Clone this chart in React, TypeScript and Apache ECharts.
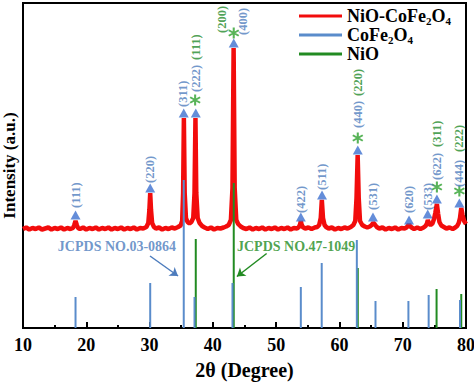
import React, { useEffect, useRef } from 'react';
import * as echarts from 'echarts';

// ---- Measured XRD pattern of NiO-CoFe2O4 (2θ, intensity a.u.) ----
const XRD_TWO_THETA = [
  10.0, 10.5, 11.0, 11.5, 12.0, 12.5, 13.0, 13.5, 14.0, 14.5, 15.0, 15.5, 16.0, 16.5, 17.0, 17.5,
  17.9, 18.1, 18.3, 18.5, 18.7,
  19.0, 19.5, 20.0, 20.5, 21.0, 21.5, 22.0, 22.5, 23.0, 23.5, 24.0, 24.5, 25.0, 25.5, 26.0, 26.5, 27.0, 27.5, 28.0, 28.5, 29.0,
  29.5, 29.8, 29.97, 30.1, 30.23, 30.4, 30.7,
  31.0, 31.5, 32.0, 32.5, 33.0, 33.5, 34.0, 34.5,
  34.9, 35.15, 35.3, 35.42, 35.55, 35.75, 36.0, 36.3, 36.6, 36.9, 37.1, 37.25, 37.38, 37.6, 37.9, 38.3,
  38.7, 39.2, 39.7, 40.2, 40.7, 41.2, 41.7, 42.1,
  42.5, 42.85, 43.1, 43.28, 43.45, 43.7, 44.0, 44.4,
  44.8, 45.3, 45.8, 46.3, 46.8, 47.3, 47.8, 48.3, 48.8, 49.3, 49.8, 50.3, 50.8, 51.3, 51.8, 52.3, 52.8, 53.3,
  53.6, 53.78, 53.9, 54.02, 54.2,
  54.6, 55.1, 55.6, 56.1, 56.5,
  56.8, 57.05, 57.22, 57.4, 57.65, 57.9,
  58.3, 58.8, 59.3, 59.8, 60.3, 60.8, 61.3, 61.8,
  62.2, 62.5, 62.7, 62.88, 63.05, 63.25, 63.6, 64.0,
  64.4, 64.8, 65.1, 65.35, 65.6, 65.9,
  66.3, 66.8, 67.3, 67.8, 68.3, 68.8, 69.3, 69.8, 70.3,
  70.6, 70.8, 70.98, 71.15, 71.4,
  71.8, 72.3, 72.8, 73.3, 73.6,
  73.8, 73.97, 74.15, 74.4, 74.7, 74.95, 75.15, 75.4, 75.6, 75.8, 76.1, 76.5,
  76.9, 77.4, 77.9, 78.3, 78.6,
  78.85, 79.05, 79.25, 79.45, 79.7, 80.0,
];
const XRD_INTENSITY = [
  99, 100.5, 98.5, 100, 99, 100.5, 98.5, 99.5, 100.5, 98.5, 100, 99, 100.5, 98.5, 100, 99,
  100, 103, 107, 103, 100,
  99, 100.5, 98.5, 100, 99, 100.5, 98.5, 100, 99, 100.5, 98.5, 100, 99, 100.5, 98.5, 100, 99, 100.5, 98.5, 100, 99.5,
  101, 105, 118, 135, 118, 105, 101,
  99.5, 100.5, 98.5, 100, 99, 100.5, 99.5, 101,
  102.5, 107, 135, 210, 135, 110, 106, 104.5, 106, 110, 135, 210, 135, 110, 105, 102,
  100.5, 99, 100.5, 98.5, 100, 99.5, 100.5, 101.5,
  103, 108, 140, 280, 140, 108, 104, 101.5,
  100, 99, 100.5, 98.5, 100, 99, 100.5, 98.5, 100, 99, 100.5, 98.5, 100, 99, 100.5, 98.5, 100, 99.5,
  101, 103.5, 107, 103.5, 101,
  99.5, 100.5, 99, 100.5, 101,
  103, 110, 128, 110, 103, 101,
  99.5, 100.5, 98.5, 100, 99, 100.5, 99.5, 101,
  103, 107, 130, 173, 130, 107, 103, 101.5,
  100.5, 101.5, 103, 105, 103.5, 101,
  99.5, 100.5, 98.5, 100, 99, 100.5, 98.5, 100, 99.5,
  100.5, 102, 104, 102, 100.5,
  99, 100.5, 99, 100.5, 102,
  104, 108, 104.5, 103, 104.5, 109, 115, 124, 114, 106, 102.5, 101,
  99.5, 100.5, 99, 100.5, 102,
  105, 110, 120, 113, 107, 104,
];

// ---- Peak markers (blue triangles) ----
const TRIANGLE_X = [18.3, 30.1, 35.4, 37.3, 43.3, 53.9, 57.25, 62.9, 65.3, 71.0, 73.95, 75.4, 78.95];
const TRIANGLE_Y = [113, 140, 215, 215, 285, 111, 133, 178, 111, 108, 114, 129, 125];

// ---- NiO peak markers (green asterisks) ----
const ASTERISK_X = [37.2, 43.3, 62.9, 75.4, 78.95];
const ASTERISK_Y = [228, 295, 190, 141, 137];

// ---- Reference patterns (stick heights) ----
const COFE2O4_X = [18.3, 30.1, 35.4, 37.1, 43.1, 53.9, 57.2, 62.75, 65.7, 70.9, 74.1, 79.05];
const COFE2O4_Y = [31, 45, 148, 31, 45, 41, 65, 88, 27, 27, 33, 28];
const NIO_X = [37.3, 43.3, 62.9, 75.35, 79.25];
const NIO_Y = [89, 145, 60, 39, 34];

// ---- Miller index labels ----
const BLUE_HKL = ['(111)', '(220)', '(311)', '(222)', '(400)', '(422)', '(511)', '(440)', '(531)', '(620)', '(533)', '(622)', '(444)'];
const BLUE_HKL_X = [18.3, 30.1, 35.35, 37.4, 44.75, 53.9, 57.25, 62.9, 65.3, 71.0, 73.95, 75.45, 78.95];
const BLUE_HKL_Y = [120, 145, 221, 236, 293, 115, 138, 200, 118, 115, 118, 148, 141];
const GREEN_HKL = ['(111)', '(200)', '(220)', '(311)', '(222)'];
const GREEN_HKL_X = [37.4, 41.45, 62.9, 75.45, 78.95];
const GREEN_HKL_Y = [268, 295, 232, 181, 176];

// ---- Reference card annotations ----
const CARD_TEXT = ['JCPDS NO.03-0864', 'JCPDS NO.47-1049'];
const CARD_TEXT_X = [24.85, 53.15];
const CARD_TEXT_Y = [82, 82];
const CARD_ARROW_FROM = [[30.07, 72], [48.5, 74.5]];
const CARD_ARROW_TO = [[34.5, 52], [43.8, 51.5]];

const X_TICKS = [10, 20, 30, 40, 50, 60, 70, 80];

const SERIF = "'Liberation Serif', 'Times New Roman', serif";
const RED = '#f20c0c';
const BLUE = '#5a8ccb';
const TRI_BLUE = '#3d70cf';
const TXT_BLUE = '#4d7cbd';
const GREEN = '#228b22';
const TXT_GREEN = '#1f8a2a';
const AST_GREEN = '#2ea02e';

const ASTERISK_PATH =
  'path://M-0.9,-5L0.9,-5L0.9,5L-0.9,5Z' +
  'M3.88,-3.28L4.78,-1.72L-3.88,3.28L-4.78,1.72Z' +
  'M-4.78,-1.72L-3.88,-3.28L4.78,1.72L3.88,3.28Z';

function hklSeries(texts: string[], xs: number[], ys: number[], color: string) {
  return {
    type: 'scatter',
    z: 6,
    silent: true,
    symbolSize: 1,
    itemStyle: { color: 'transparent' },
    label: {
      show: true,
      position: 'inside',
      rotate: 90,
      align: 'left',
      verticalAlign: 'middle',
      fontFamily: SERIF,
      fontWeight: 'bold',
      fontSize: 12.5,
      color,
      formatter: (p: any) => texts[p.dataIndex],
    },
    data: xs.map((x, i) => [x, ys[i]]),
  };
}

export default function App() {
  const ref = useRef<HTMLDivElement>(null);
  useEffect(() => {
    const chart = echarts.init(ref.current!, null, { renderer: 'svg' });
    const option: any = {
      animation: false,
      backgroundColor: '#ffffff',
      grid: {
        left: 23, right: 8, top: 3, bottom: 55,
        outerBoundsMode: 'none',
        containLabel: false,
        show: true, borderColor: '#000', borderWidth: 2,
      },
      legend: {
        orient: 'vertical',
        left: 299,
        top: 7,
        padding: 0,
        itemGap: 0,
        itemWidth: 43,
        itemHeight: 3,
        icon: 'rect',
        selectedMode: false,
        data: ['NiO-CoFe2O4', 'CoFe2O4', 'NiO'],
        formatter: (name: string) =>
          name === 'NiO-CoFe2O4'
            ? '{a|NiO-CoFe}{s|2}{a|O}{s|4}'
            : name === 'CoFe2O4'
            ? '{a|CoFe}{s|2}{a|O}{s|4}'
            : '{a|NiO}',
        textStyle: {
          rich: {
            a: { fontFamily: SERIF, fontWeight: 'bold', fontSize: 18, lineHeight: 20, color: '#000' },
            s: { fontFamily: SERIF, fontWeight: 'bold', fontSize: 11, lineHeight: 11, verticalAlign: 'bottom', color: '#000' },
          },
        },
      },
      xAxis: {
        type: 'value',
        min: X_TICKS[0],
        max: X_TICKS[X_TICKS.length - 1],
        interval: 10,
        name: '2θ (Degree)',
        nameLocation: 'middle',
        nameGap: 32,
        nameTextStyle: { fontFamily: SERIF, fontWeight: 'bold', fontSize: 20, color: '#000' },
        axisLine: { lineStyle: { color: '#000', width: 2 } },
        axisTick: { inside: true, length: 6, lineStyle: { color: '#000', width: 2 } },
        minorTick: { show: true, splitNumber: 2, length: 3, lineStyle: { color: '#000', width: 2 } },
        axisLabel: {
          fontFamily: SERIF,
          fontWeight: 'bold',
          fontSize: 18,
          color: '#000',
          margin: 8,
          showMinLabel: true,
          showMaxLabel: true,
          alignMinLabel: 'center',
          alignMaxLabel: 'center',
          hideOverlap: false,
        },
        splitLine: { show: false },
      },
      yAxis: {
        type: 'value',
        min: 0,
        max: 325,
        name: 'Intensity (a.u.)',
        nameLocation: 'middle',
        nameGap: 5.5,
        nameTextStyle: { fontFamily: SERIF, fontWeight: 'bold', fontSize: 17, color: '#000' },
        axisLine: { show: true, lineStyle: { color: '#000', width: 2 } },
        axisTick: { show: false },
        axisLabel: { show: false },
        splitLine: { show: false },
      },
      series: [
        {
          name: 'NiO-CoFe2O4',
          type: 'line',
          z: 2,
          silent: true,
          showSymbol: false,
          color: RED,
          lineStyle: { color: RED, width: 4.5, join: 'bevel' },
          data: XRD_TWO_THETA.map((x, i) => [x, XRD_INTENSITY[i]]),
        },
        {
          name: 'NiO',
          type: 'bar',
          z: 3,
          silent: true,
          barWidth: 2,
          barGap: '-100%',
          color: GREEN,
          itemStyle: { color: GREEN },
          data: NIO_X.map((x, i) => [x, NIO_Y[i]]),
        },
        {
          name: 'CoFe2O4',
          type: 'bar',
          z: 3,
          silent: true,
          barWidth: 2,
          barGap: '-100%',
          color: BLUE,
          itemStyle: { color: BLUE },
          data: COFE2O4_X.map((x, i) => [x, COFE2O4_Y[i]]),
        },
        {
          type: 'scatter',
          z: 5,
          silent: true,
          symbol: 'triangle',
          symbolSize: [10, 9],
          itemStyle: { color: TRI_BLUE },
          data: TRIANGLE_X.map((x, i) => [x, TRIANGLE_Y[i]]),
        },
        {
          type: 'scatter',
          z: 5,
          silent: true,
          symbol: ASTERISK_PATH,
          symbolSize: 11,
          itemStyle: { color: AST_GREEN },
          data: ASTERISK_X.map((x, i) => [x, ASTERISK_Y[i]]),
        },
        hklSeries(BLUE_HKL, BLUE_HKL_X, BLUE_HKL_Y, TXT_BLUE),
        hklSeries(GREEN_HKL, GREEN_HKL_X, GREEN_HKL_Y, TXT_GREEN),
        {
          type: 'scatter',
          z: 6,
          silent: true,
          symbolSize: 1,
          itemStyle: { color: 'transparent' },
          label: {
            show: true,
            position: 'inside',
            fontFamily: SERIF,
            fontWeight: 'bold',
            fontSize: 14,
            formatter: (p: any) => CARD_TEXT[p.dataIndex],
          },
          data: CARD_TEXT.map((_, i) => ({
            value: [CARD_TEXT_X[i], CARD_TEXT_Y[i]],
            label: { color: i === 0 ? TXT_BLUE : GREEN },
          })),
          markLine: {
            silent: true,
            symbol: ['none', 'arrow'],
            symbolSize: 8,
            label: { show: false },
            lineStyle: { type: 'solid', width: 1.5 },
            data: CARD_ARROW_FROM.map((from, i) => [
              { coord: from, lineStyle: { color: i === 0 ? TXT_BLUE : GREEN, type: 'solid', width: 1.5 }, itemStyle: { color: i === 0 ? TXT_BLUE : GREEN } },
              { coord: CARD_ARROW_TO[i] },
            ]),
          },
        },
      ],
    };
    chart.setOption(option);
    return () => chart.dispose();
  }, []);
  return (
    <div
      ref={ref}
      style={{ position: 'fixed', left: 0, top: 0, width: 474, height: 383, background: '#fff' }}
    />
  );
}
